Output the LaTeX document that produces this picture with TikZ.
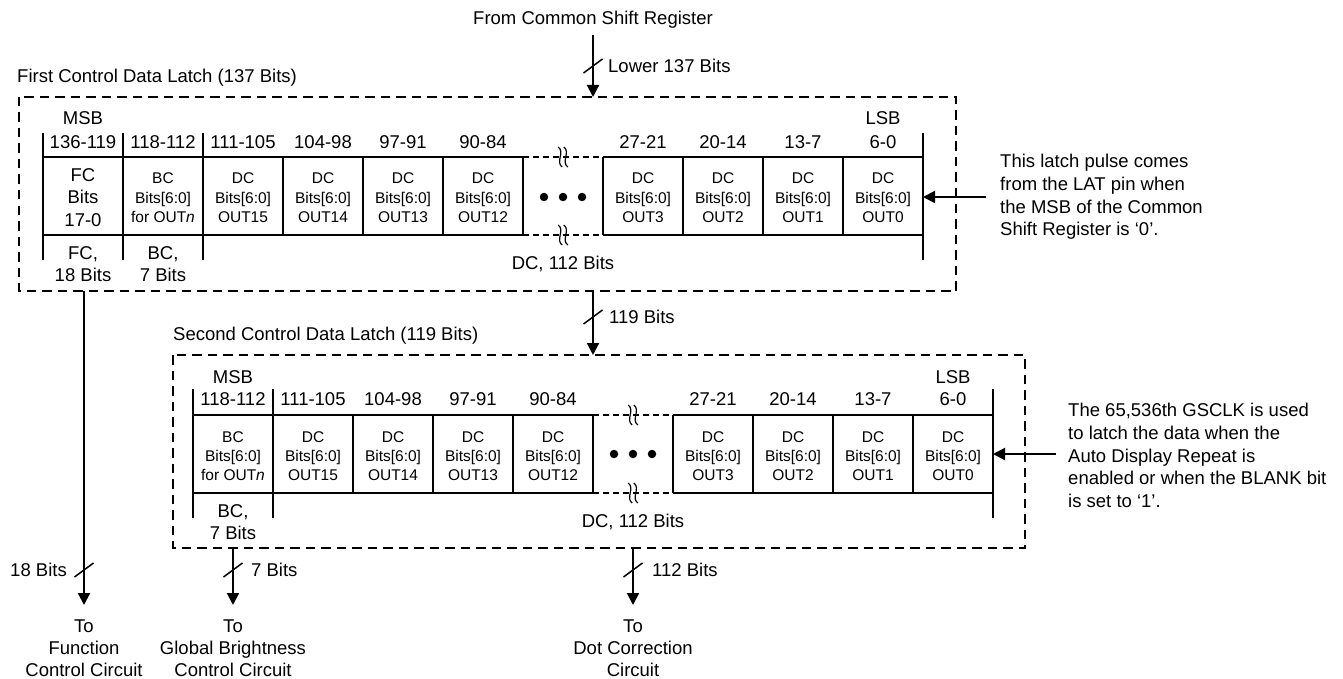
\documentclass[tikz,border=0pt]{standalone}
\usepackage{fontspec}
\setmainfont{Liberation Sans}
\usetikzlibrary{arrows.meta}
\begin{document}
\begin{tikzpicture}[x=1pt,y=-1pt,
  lbl/.style={font=\fontsize{18.5}{22.7}\selectfont, inner sep=0pt, anchor=base},
  lblw/.style={lbl, anchor=base west},
  lble/.style={lbl, anchor=base east},
  small/.style={font=\fontsize{15.5}{19}\selectfont, inner sep=0pt, anchor=base},
  regline/.style={line width=2.4pt},
  latch/.style={line width=2.2pt, dash pattern=on 9.5pt off 6pt},
  brk/.style={line width=1.5pt, dash pattern=on 6pt off 4pt},
  bus/.style={line width=2.1pt, -{Triangle[length=12pt,width=12pt]}},
  tick/.style={line width=1.5pt},
  squig/.style={line width=1.2pt},
  dot/.style={circle, fill=black, inner sep=0pt, minimum size=8.5pt}
]
\useasboundingbox (0,0) rectangle (1343,679);

% ---------------- top input ----------------
\node[lbl] (src) at (593,25) {From Common Shift Register};
\coordinate (srcpt) at (593,35);
\coordinate (l1top) at (593,97);
\draw[bus] (srcpt) -- (l1top);
\coordinate (t1c) at (593,66);
\draw[tick] ([shift={(-9.5,7)}]t1c) -- ([shift={(9.5,-7)}]t1c);
\node[lblw] (low137) at (608,73) {Lower 137 Bits};

% ---------------- first latch ----------------
\node[lblw] (l1title) at (17,83) {First Control Data Latch (137 Bits)};
\draw[latch] (19,97) rectangle (956,291);

\node[lbl] (msb1) at (83,125) {MSB};
\node[lbl] (lsb1) at (883,125) {LSB};

\draw[regline] (43,133) -- (43,260);
\draw[regline] (923,133) -- (923,260);
\draw[regline] (123,133) -- (123,157);
\draw[regline] (203,133) -- (203,157);
\draw[regline] (123,235) -- (123,260);
\draw[regline] (203,235) -- (203,260);
\draw[regline] (43,157) -- (523,157);
\draw[regline] (603,157) -- (923,157);
\draw[regline] (43,235) -- (523,235);
\draw[regline] (603,235) -- (923,235);
\foreach \k in {1,...,6,7,8,9,10} {
  \draw[regline] ({43+80*\k},157) -- ({43+80*\k},235);
}
\draw[brk] (523,157) -- (603,157);
\draw[brk] (523,235) -- (603,235);
\foreach \yy in {157,235} {
  \foreach \o in {-2.8,2.8} {
    \draw[squig] ({563+\o-2},{\yy-10}) .. controls ({563+\o+5},{\yy-5}) and ({563+\o-5},{\yy+5}) .. ({563+\o+2},{\yy+10});
  }
}
\node[dot] (d1a) at (544,197) {};
\node[dot] (d1b) at (563,197) {};
\node[dot] (d1c) at (582,197) {};

\foreach \k/\r in {0/136-119,1/118-112,2/111-105,3/104-98,4/97-91,5/90-84,7/27-21,8/20-14,9/13-7,10/6-0} {
  \node[lbl] (ra\k) at ({83+80*\k},149) {\r};
}
\node[lbl] (fc1) at (83,182) {FC};
\node[lbl] (fc2) at (83,204) {Bits};
\node[lbl] (fc3) at (83,226) {17-0};
\node[small] (bca1) at (163,184) {BC};
\node[small] (bca2) at (163,203.5) {Bits[6:0]};
\node[small] (bca3) at (163,222.7) {for OUT\textit{n}};
\foreach \k/\o in {2/15,3/14,4/13,5/12,7/3,8/2,9/1,10/0} {
  \node[small] (dca\k a) at ({83+80*\k},184) {DC};
  \node[small] (dca\k b) at ({83+80*\k},203.5) {Bits[6:0]};
  \node[small] (dca\k c) at ({83+80*\k},222.7) {OUT\o};
}
\node[lbl] (fcb1) at (83,259) {FC,};
\node[lbl] (fcb2) at (83,281) {18 Bits};
\node[lbl] (bcb1) at (163,259) {BC,};
\node[lbl] (bcb2) at (163,281) {7 Bits};
\node[lbl] (dcb1) at (563,269) {DC, 112 Bits};

\node[lblw] (n1a) at (1000,167.5) {This latch pulse comes};
\node[lblw] (n1b) at (1000,190.3) {from the LAT pin when};
\node[lblw] (n1c) at (1000,213) {the MSB of the Common};
\node[lblw] (n1d) at (1000,235.8) {Shift Register is ‘0’.};
\coordinate (p1s) at (986,197);
\coordinate (p1e) at (923,197);
\draw[bus] (p1s) -- (p1e);

% ---------------- between latches ----------------
\coordinate (l1bot) at (593,291);
\coordinate (l2top) at (593,355);
\draw[bus] (l1bot) -- (l2top);
\coordinate (t2c) at (593,317);
\draw[tick] ([shift={(-9.5,7)}]t2c) -- ([shift={(9.5,-7)}]t2c);
\node[lblw] (b119) at (609,323) {119 Bits};

% ---------------- second latch ----------------
\node[lblw] (l2title) at (173,340.5) {Second Control Data Latch (119 Bits)};
\draw[latch] (173,355) rectangle (1025,548);

\node[lbl] (msb2) at (233,383) {MSB};
\node[lbl] (lsb2) at (953,383) {LSB};

\draw[regline] (193,389) -- (193,518);
\draw[regline] (993,389) -- (993,518);
\draw[regline] (273,389) -- (273,415);
\draw[regline] (273,493) -- (273,518);
\draw[regline] (193,415) -- (593,415);
\draw[regline] (673,415) -- (993,415);
\draw[regline] (193,493) -- (593,493);
\draw[regline] (673,493) -- (993,493);
\foreach \k in {1,...,5,6,7,8,9} {
  \draw[regline] ({193+80*\k},415) -- ({193+80*\k},493);
}
\draw[brk] (593,415) -- (673,415);
\draw[brk] (593,493) -- (673,493);
\foreach \yy in {415,493} {
  \foreach \o in {-2.8,2.8} {
    \draw[squig] ({633+\o-2},{\yy-10}) .. controls ({633+\o+5},{\yy-5}) and ({633+\o-5},{\yy+5}) .. ({633+\o+2},{\yy+10});
  }
}
\node[dot] (d2a) at (614,454) {};
\node[dot] (d2b) at (633,454) {};
\node[dot] (d2c) at (652,454) {};

\foreach \k/\r in {0/118-112,1/111-105,2/104-98,3/97-91,4/90-84,6/27-21,7/20-14,8/13-7,9/6-0} {
  \node[lbl] (rb\k) at ({233+80*\k},405) {\r};
}
\node[small] (bcc1) at (233,442) {BC};
\node[small] (bcc2) at (233,461.5) {Bits[6:0]};
\node[small] (bcc3) at (233,480.7) {for OUT\textit{n}};
\foreach \k/\o in {1/15,2/14,3/13,4/12,6/3,7/2,8/1,9/0} {
  \node[small] (dcc\k a) at ({233+80*\k},442) {DC};
  \node[small] (dcc\k b) at ({233+80*\k},461.5) {Bits[6:0]};
  \node[small] (dcc\k c) at ({233+80*\k},480.7) {OUT\o};
}
\node[lbl] (bcd1) at (233,517) {BC,};
\node[lbl] (bcd2) at (233,539) {7 Bits};
\node[lbl] (dcd1) at (633,527) {DC, 112 Bits};

\node[lblw] (n2a) at (1068,416.7) {The 65,536th GSCLK is used};
\node[lblw] (n2b) at (1068,439.5) {to latch the data when the};
\node[lblw] (n2c) at (1068,462) {Auto Display Repeat is};
\node[lblw] (n2d) at (1068,484.7) {enabled or when the BLANK bit};
\node[lblw] (n2e) at (1068,507.5) {is set to ‘1’.};
\coordinate (p2s) at (1056,454);
\coordinate (p2e) at (993,454);
\draw[bus] (p2s) -- (p2e);

% ---------------- outputs ----------------
\coordinate (fcs) at (84,291);
\coordinate (fce) at (84,605);
\draw[bus] (fcs) -- (fce);
\coordinate (tfc) at (84,570);
\draw[tick] ([shift={(-9.5,7)}]tfc) -- ([shift={(9.5,-7)}]tfc);
\node[lble] (o18) at (67,576) {18 Bits};

\coordinate (bcs) at (233,548);
\coordinate (bce) at (233,605);
\draw[bus] (bcs) -- (bce);
\coordinate (tbc) at (233,570);
\draw[tick] ([shift={(-9.5,7)}]tbc) -- ([shift={(9.5,-7)}]tbc);
\node[lblw] (o7) at (251,576) {7 Bits};

\coordinate (dcs) at (633,548);
\coordinate (dce) at (633,605);
\draw[bus] (dcs) -- (dce);
\coordinate (tdc) at (633,570);
\draw[tick] ([shift={(-9.5,7)}]tdc) -- ([shift={(9.5,-7)}]tdc);
\node[lblw] (o112) at (652,576) {112 Bits};

\node[lbl] (f1) at (84,632) {To};
\node[lbl] (f2) at (84,654) {Function};
\node[lbl] (f3) at (84,676) {Control Circuit};
\node[lbl] (g1) at (233,632) {To};
\node[lbl] (g2) at (233,654) {Global Brightness};
\node[lbl] (g3) at (233,676) {Control Circuit};
\node[lbl] (h1) at (633,632) {To};
\node[lbl] (h2) at (633,654) {Dot Correction};
\node[lbl] (h3) at (633,676) {Circuit};
\end{tikzpicture}
\end{document}
